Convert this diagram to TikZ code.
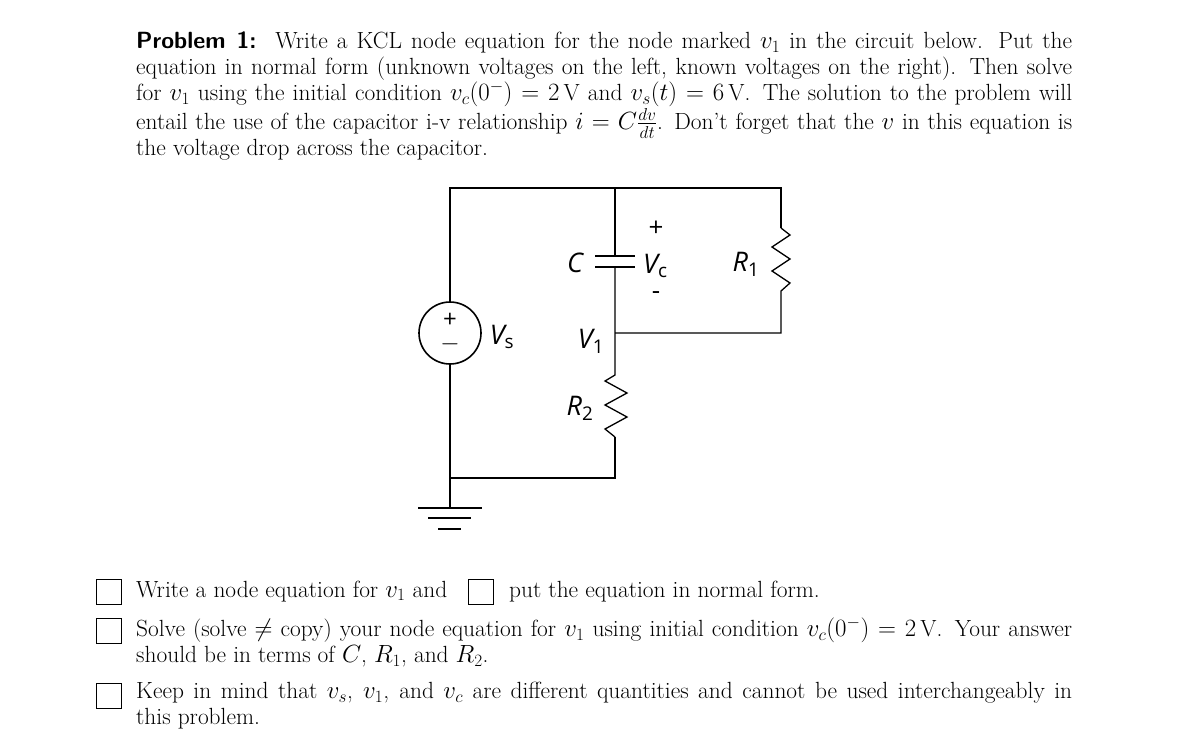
\documentclass[tikz,border=0pt]{standalone}
\usepackage{amsmath}
\usepackage{fontspec}
\newfontfamily\cktfont{Open Sans}
\begin{document}
\begin{tikzpicture}[x=1pt,y=-1pt,
  wire/.style={line width=1.3pt},
  lbl/.style={font=\cktfont\fontsize{27}{30}\selectfont\itshape, inner sep=0pt},
  txt/.style={anchor=north west, inner sep=0pt, text width=936pt, align=justify, font=\fontsize{23.4}{26}\selectfont},
  cbox/.style={draw, line width=0.8pt, minimum width=25pt, minimum height=25pt, inner sep=0pt}]
\useasboundingbox (0,0) rectangle (1183,745);
% text
\node[txt] (para) at (136,32) {\textsf{\bfseries Problem 1:}\hspace{0.8em}Write a KCL node equation for the node marked $v_1$ in the circuit below. Put the equation in normal form (unknown voltages on the left, known voltages on the right). Then solve for $v_1$ using the initial condition $v_c(0^-)=2\,\mathrm{V}$ and $v_s(t)=6\,\mathrm{V}$. The solution to the problem will entail the use of the capacitor i-v relationship $i=C\frac{dv}{dt}$. Don't forget that the $v$ in this equation is the voltage drop across the capacitor.};
% circuit coordinates
\coordinate (tl) at (450,188); \coordinate (tm) at (615,188); \coordinate (tr) at (781,188);
\coordinate (bl) at (450,478); \coordinate (bm) at (615,478);
\coordinate (v1) at (615,333); \coordinate (rb) at (781,333);
\coordinate (g) at (450,508);
\node[circle, draw, line width=1.6pt, minimum size=62pt, inner sep=0pt] (vs) at (450,333) {};
\node[font=\cktfont\fontsize{24}{24}\selectfont, inner sep=0pt] (vsp) at (450,320) {+};
\node[font=\cktfont\fontsize{24}{24}\selectfont, inner sep=0pt] (vsm) at (450,344) {$-$};
\draw[wire] (vs.north) -- (tl) -- (tr) -- (781,228);
\draw[wire] (781,228) -- (790,235) -- (772,247) -- (790,259) -- (772,271) -- (790,283) -- (781,291) -- (rb) -- (v1);
\draw[wire] (vs.south) -- (bl) -- (bm) -- (615,437);
\draw[wire] (615,437) -- (605,429) -- (627,417) -- (605,405) -- (627,393) -- (605,381) -- (615,375) -- (v1) -- (615,267);
\draw[wire] (tm) -- (615,256);
\draw[wire] (595,256) -- (635,256); \draw[wire] (595,267) -- (635,267);
\draw[wire] (bl) -- (g);
\draw[wire] (418,508) -- (482,508); \draw[wire] (428,518) -- (471,518); \draw[wire] (438,529) -- (461,529);
% labels
\node[lbl] (lC) at (575,263) {C};
\node[lbl, anchor=west] (lVc) at (643,266) {V\textsubscript{\upshape c}};
\node[font=\cktfont\fontsize{26}{26}\selectfont, inner sep=0pt] (pl) at (656,229) {+};
\node[font=\cktfont\fontsize{26}{26}\selectfont, inner sep=0pt] (mi) at (656,296) {-};
\node[lbl] (lR1) at (746,264) {R\textsubscript{\upshape 1}};
\node[lbl] (lVs) at (502,337) {V\textsubscript{\upshape s}};
\node[lbl] (lV1) at (591,341) {V\textsubscript{\upshape 1}};
\node[lbl] (lR2) at (580,408) {R\textsubscript{\upshape 2}};
% checklist
\node[cbox] (c1) at (109,592) {};
\node[cbox] (c2) at (481,592) {};
\node[cbox] (c3) at (109,631) {};
\node[cbox] (c4) at (109,696) {};
\node[anchor=base west, inner sep=0pt, font=\fontsize{23.4}{26}\selectfont] (t1) at (136,597) {Write a node equation for $v_1$ and};
\node[anchor=base west, inner sep=0pt, font=\fontsize{23.4}{26}\selectfont] (t2) at (509,597) {put the equation in normal form.};
\node[txt] (t3) at (136,617) {Solve (solve $\neq$ copy) your node equation for $v_1$ using initial condition $v_c(0^-)=2\,\mathrm{V}$. Your answer should be in terms of $C$, $R_1$, and $R_2$.};
\node[txt] (t4) at (136,682) {Keep in mind that $v_s$, $v_1$, and $v_c$ are different quantities and cannot be used interchangeably in\linebreak this problem.};
\end{tikzpicture}
\end{document}
